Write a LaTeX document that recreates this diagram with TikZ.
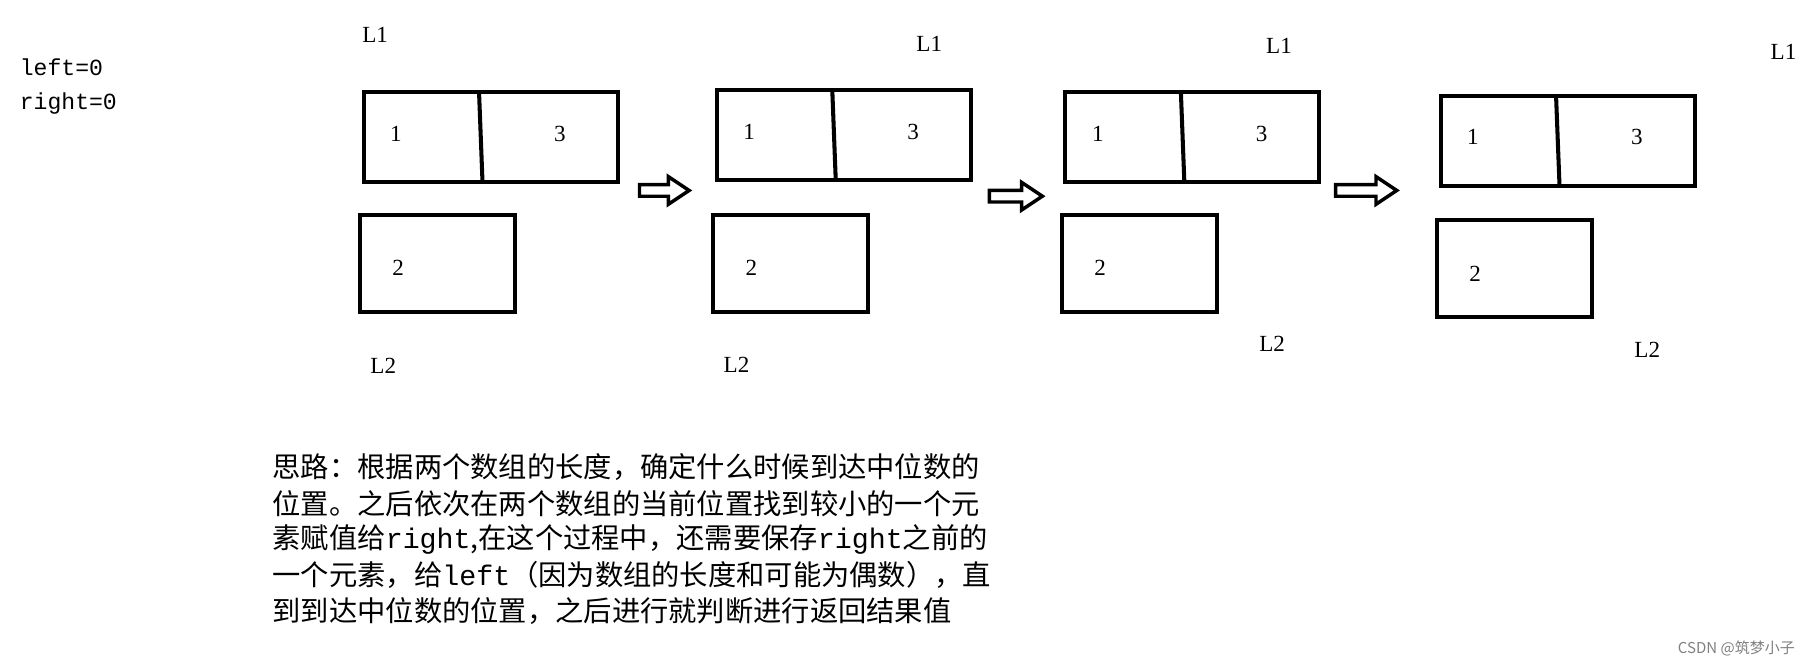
\documentclass[tikz,border=0pt]{standalone}
\usepackage{fontspec}
\setmainfont{Liberation Serif}
\newfontfamily\cjk{Noto Sans CJK SC}
\newfontfamily\mono{Liberation Mono}
\begin{document}
\begin{tikzpicture}[x=1pt,y=-1pt,
  box/.style={line width=3.5pt},
  lab/.style={font=\fontsize{20}{20}\selectfont,inner sep=0pt},
  txt/.style={font=\cjk\fontsize{24.5}{24.5}\selectfont,anchor=west,inner sep=0pt},
  harrow/.style={line width=3pt,line join=miter}]
\useasboundingbox (0,0) rectangle (1568,577);
\node[anchor=west,inner sep=0pt,font=\mono\fontsize{20}{20}\selectfont] (lf) at (17,58) {left=0};
\node[anchor=west,inner sep=0pt,font=\mono\fontsize{20}{20}\selectfont] (rt) at (17,90) {right=0};
\newcommand\grp[9]{%
 \draw[box] (#1,#2) rectangle ++(220,78);
 \draw[box] (#1+100,#2) -- (#1+103,#2+78);
 \node[lab] (one#9) at (#1+28,#2+36) {1};
 \node[lab] (three#9) at (#1+170,#2+36) {3};
 \draw[box] (#3,#4) rectangle ++(134,84);
 \node[lab] (two#9) at (#3+33,#4+46) {2};
 \node[lab] (la#9) at (#5,#6) {L1};
 \node[lab] (lb#9) at (#7,#8) {L2};}
\grp{315}{80}{312}{186}{325}{30}{332}{317}{a}
\grp{621}{78}{618}{186}{805}{38}{638}{316}{b}
\grp{923}{80}{920}{186}{1108}{40}{1102}{298}{c}
\grp{1248}{83}{1245}{191}{1545}{45}{1427}{303}{d}
\newcommand\harr[3]{%
 \draw[harrow] (#1,#3-5) -- (#2-18,#3-5) -- (#2-18,#3-12) -- (#2,#3) -- (#2-18,#3+12) -- (#2-18,#3+5) -- (#1,#3+5) -- cycle;}
\harr{554}{597}{165}
\harr{857}{903}{170}
\harr{1157}{1210}{165}
\node[txt] (t1) at (236,405) {思路：根据两个数组的长度，确定什么时候到达中位数的};
\node[txt] (t2) at (236,436) {位置。之后依次在两个数组的当前位置找到较小的一个元};
\node[txt] (t3) at (236,467) {素赋值给{\mono right},在这个过程中，还需要保存{\mono right}之前的};
\node[txt] (t4) at (236,498) {一个元素，给{\mono left}（因为数组的长度和可能为偶数），直};
\node[txt] (t5) at (236,529) {到到达中位数的位置，之后进行就判断进行返回结果值};
\node[anchor=east,inner sep=0pt,text=gray,font=\cjk\fontsize{13}{13}\selectfont] (wm) at (1555,562) {CSDN @筑梦小子};
\end{tikzpicture}
\end{document}
